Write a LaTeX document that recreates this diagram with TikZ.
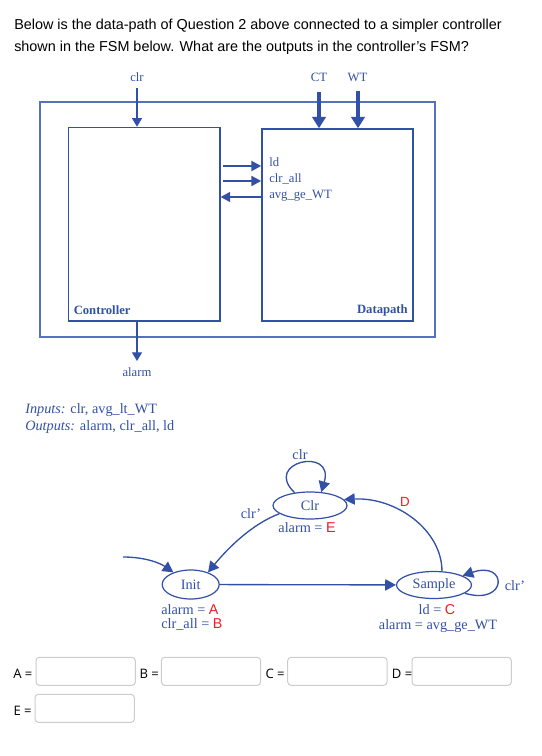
\documentclass[tikz,border=0pt]{standalone}
\usepackage{fontspec}
\setmainfont{Liberation Serif}
\newfontfamily\hdfont{Liberation Sans}
\newfontfamily\ansfont{Open Sans}
\usetikzlibrary{arrows.meta,shapes.geometric}
\definecolor{dblue}{RGB}{50,80,165}
\definecolor{oblue}{RGB}{88,112,192}
\definecolor{vred}{RGB}{235,30,35}
\definecolor{bgray}{RGB}{204,204,204}
\newcommand\rv[1]{{\hdfont\color{vred}#1}}
\tikzset{
  hdr/.style={anchor=base west, inner sep=0, font=\hdfont\fontsize{10.8pt}{12pt}\selectfont, text=black},
  outerbox/.style={draw=oblue, line width=1.4pt, inner sep=0},
  blk/.style={draw=dblue, line width=1.1pt, inner sep=0},
  lbl/.style={inner sep=0, text=dblue, font=\fontsize{9.5pt}{11pt}\selectfont},
  bflbl/.style={inner sep=0, text=dblue, font=\fontsize{9.5pt}{11pt}\selectfont\bfseries},
  sig/.style={draw=dblue, line width=0.9pt, -{Triangle[width=7.5pt,length=6.5pt]}, fill=dblue},
  bus/.style={draw=dblue, line width=2.3pt, -{Triangle[width=10pt,length=8.5pt]}},
  ctl/.style={draw=dblue, line width=1.6pt, -{Triangle[width=7.5pt,length=7.5pt]}},
  fb/.style={draw=dblue, line width=0.9pt, -{Triangle[width=7.5pt,length=7pt]}},
  state/.style={ellipse, draw=dblue, line width=0.9pt, inner sep=0, text=dblue, font=\fontsize{10.7pt}{12pt}\selectfont},
  trans/.style={draw=dblue, line width=1pt, -{Triangle[width=8.5pt,length=8pt]}},
  fsml/.style={inner sep=0, text=dblue, font=\fontsize{10.7pt}{12pt}\selectfont},
  ansbox/.style={draw=bgray, rounded corners=2.5pt, line width=0.75pt, inner sep=0, minimum width=99.3*0.75pt, minimum height=28*0.75pt},
  ansl/.style={anchor=west, inner sep=0, font=\ansfont\fontsize{9.8pt}{11pt}\selectfont, text=black}
}
\begin{document}
\begin{tikzpicture}[x=0.75pt,y=-0.75pt]
\useasboundingbox (0,0) rectangle (542,756);
% header
\node[hdr] (h1) at (14,29.3) {Below is the data-path of Question 2 above connected to a simpler controller};
\node[hdr] (h2) at (14,51.7) {shown in the FSM below. What are the outputs in the controller’s FSM?};
% block diagram
\node[outerbox, minimum width=395*0.75pt, minimum height=235.3*0.75pt] (sys) at (237.5,219.35) {};
\node[blk, minimum width=151.5*0.75pt, minimum height=193.5*0.75pt] (ctrl) at (144.25,224.25) {};
\node[blk, minimum width=151*0.75pt, minimum height=192*0.75pt] (dp) at (337.5,225) {};
\node[bflbl, anchor=west] (ctrlname) at (73.5,310) {Controller};
\node[bflbl, anchor=east] (dpname) at (408,310) {Datapath};
% inputs from top
\node[lbl] (lclrin) at (137,77) {clr};
\node[lbl] (lct) at (319,77) {CT};
\node[lbl] (lwt) at (357.5,77) {WT};
\coordinate (clrIn) at (137,88);
\coordinate (ctIn) at (319,92);
\coordinate (wtIn) at (358,91);
\draw[sig] (clrIn) -- (clrIn |- ctrl.north);
\draw[bus] (ctIn) -- (ctIn |- dp.north);
\draw[bus] (wtIn) -- (wtIn |- dp.north);
% control signals
\coordinate (yld) at (0,166);
\coordinate (ycl) at (0,181);
\coordinate (yav) at (0,197);
\draw[ctl] ([xshift=1.5pt]ctrl.east |- yld) -- (dp.west |- yld);
\draw[ctl] ([xshift=1.5pt]ctrl.east |- ycl) -- (dp.west |- ycl);
\draw[fb] (dp.west |- yav) -- (ctrl.east |- yav);
\node[lbl, anchor=west] (lld) at (269,162.5) {ld};
\node[lbl, anchor=west] (lclall) at (269,179) {clr\_all};
\node[lbl, anchor=west] (lavg) at (269,195.5) {avg\_ge\_WT};
% alarm output
\coordinate (alOut) at (137,361);
\draw[sig] (alOut |- ctrl.south) -- (alOut);
\node[lbl] (lalarm) at (137,372.5) {alarm};
% inputs/outputs
\node[fsml, anchor=west] (inp) at (25,410) {\textit{Inputs:} clr, avg\_lt\_WT};
\node[fsml, anchor=west] (outp) at (25,427) {\textit{Outputs:} alarm, clr\_all, ld};
% FSM
\node[state, minimum width=74*0.75pt, minimum height=27*0.75pt] (sClr) at (310,505.5) {Clr};
\node[state, minimum width=57*0.75pt, minimum height=29*0.75pt] (sInit) at (190.7,584.5) {Init};
\node[state, minimum width=75*0.75pt, minimum height=27*0.75pt] (sSample) at (434,585) {Sample};
\coordinate (start) at (123,557);
\draw[trans] (start) .. controls (145,557) and (160,563) .. (sInit.145);
\draw[trans] (sInit) -- (sSample);
\draw[trans] (sClr.195) .. controls (252,524) and (228,548) .. (sInit.35);
\draw[trans] (sSample.60) .. controls (442,530) and (396,497) .. (sClr.10);
\draw[trans] (sClr.140) .. controls (262,462) and (335,446) .. (sClr.50);
\draw[trans] (sSample.-15) .. controls (508,606) and (508,560) .. (sSample.18);
\node[fsml] (lloop1) at (300,455) {clr};
\node[fsml] (lcp1) at (251,514) {clr’};
\node[inner sep=0, font=\hdfont\fontsize{10pt}{12pt}\selectfont, text=vred] (lD) at (405,501.5) {D};
\node[fsml] (lcp2) at (515,586) {clr’};
\node[fsml, anchor=west] (oA) at (161,610) {alarm = \rv{A}};
\node[fsml, anchor=west] (oB) at (161,624) {clr\_all = \rv{B}};
\node[fsml] (oE) at (307,528) {alarm = \rv{E}};
\node[fsml] (oC) at (437,609.5) {ld = \rv{C}};
\node[fsml] (oS) at (438,626) {alarm = avg\_ge\_WT};
% answer boxes
\node[ansbox] (bA) at (85.65,671.3) {};
\node[ansbox] (bB) at (211,671.3) {};
\node[ansbox] (bC) at (337.35,671.3) {};
\node[ansbox] (bD) at (461.65,671.3) {};
\node[ansbox] (bE) at (84.65,708.3) {};
\node[ansl] (lA) at (13,674) {A =};
\node[ansl] (lB) at (139.3,674) {B =};
\node[ansl] (lC) at (265.3,674) {C =};
\node[ansl] (lDD) at (391.7,674) {D =};
\node[ansl] (lE) at (13.3,710.7) {E =};
\end{tikzpicture}
\end{document}
